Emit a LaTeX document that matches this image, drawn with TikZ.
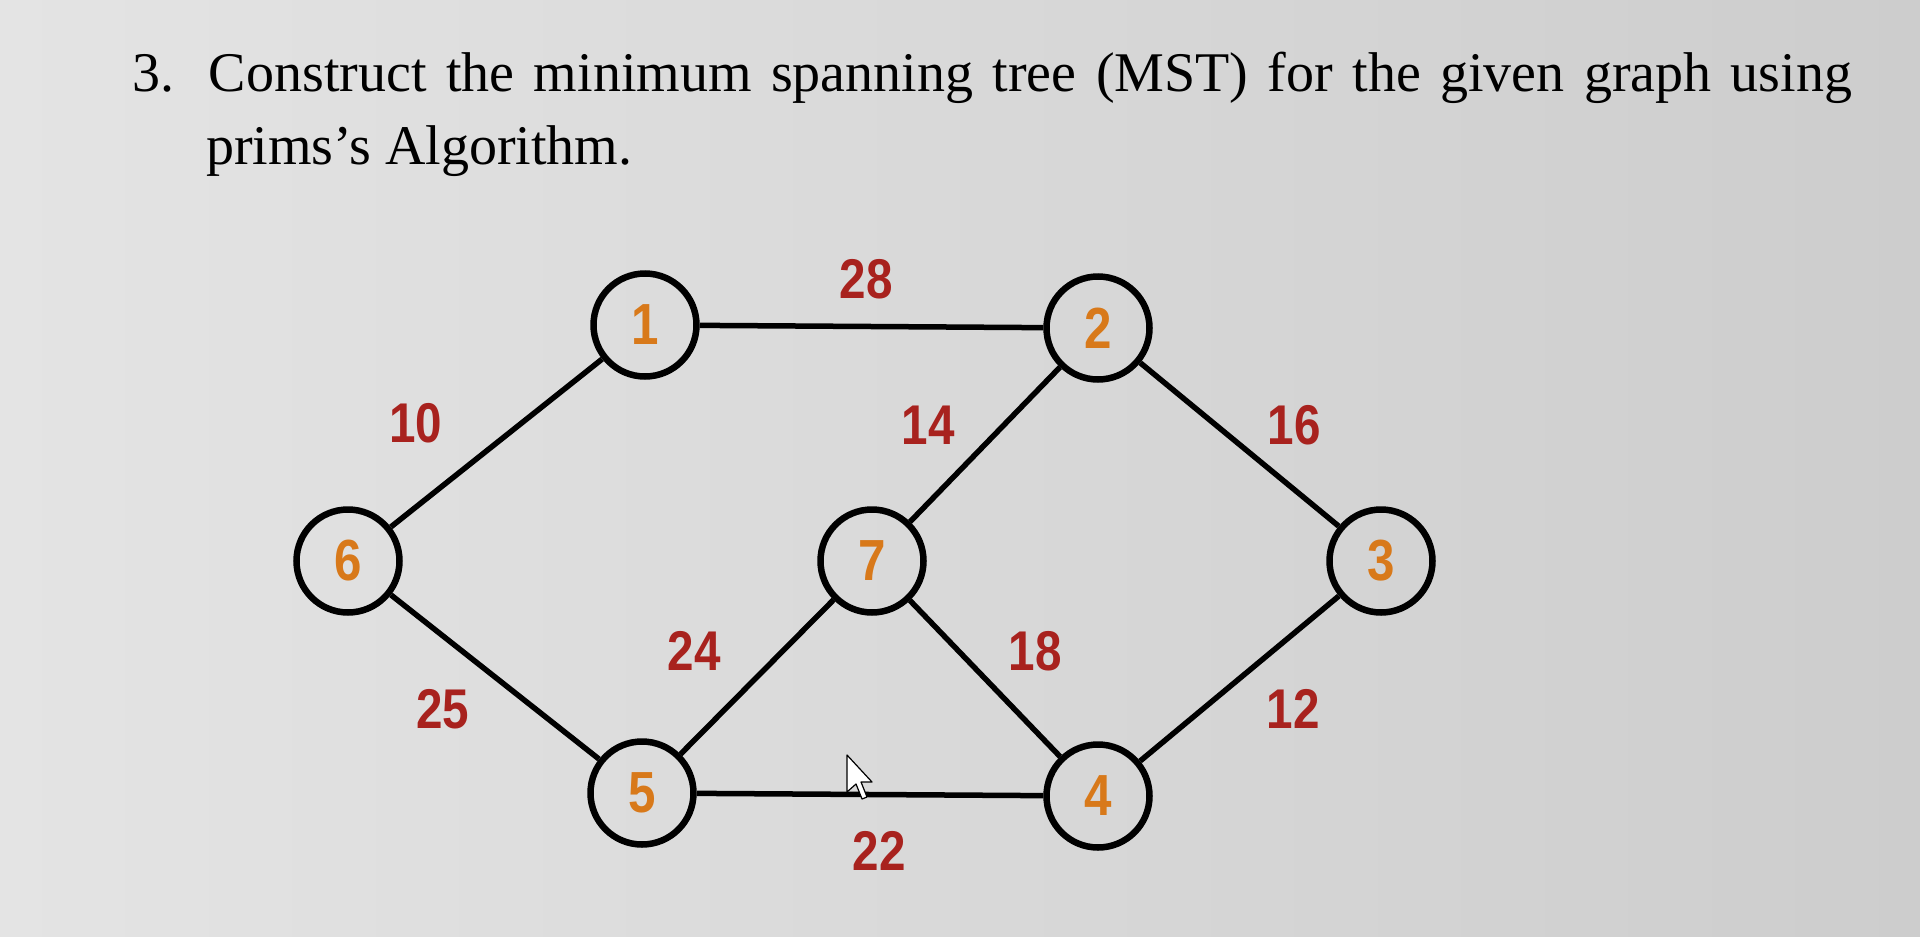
\documentclass[tikz,border=0pt]{standalone}
\usepackage{fontspec}
\setmainfont{Liberation Serif}
\newfontfamily\numfont[FakeStretch=0.85]{Liberation Sans}
\definecolor{labred}{HTML}{A8221E}
\definecolor{nodeorange}{HTML}{D8791A}
\definecolor{bgleft}{HTML}{E4E4E4}
\definecolor{bgright}{HTML}{CDCDCD}
\begin{document}
\begin{tikzpicture}[x=1pt,y=-1pt,
  vert/.style={circle,draw=black,line width=6.5pt,minimum size=103pt,inner sep=0pt,
    font=\numfont\bfseries\fontsize{58}{58}\selectfont,text=nodeorange},
  wlabel/.style={font=\numfont\bfseries\fontsize{56}{56}\selectfont,text=labred,inner sep=0pt},
  edge/.style={line width=5.5pt,black},
  title/.style={inner sep=0pt,font=\fontsize{56}{60}\selectfont,anchor=base west}]
\useasboundingbox (0,0) rectangle (1920,937);
\shade[left color=bgleft,right color=bgright] (0,0) rectangle (1920,937);
% title
\node[title] (t1) at (132,91) {\makebox[1720pt][s]{3. Construct the minimum spanning tree (MST) for the given graph using}};
\node[title] (t2) at (206,164) {prims’s Algorithm.};
% vertices
\node[vert] (n1) at (645,325) {1};
\node[vert] (n2) at (1098,328) {2};
\node[vert] (n6) at (348,561) {6};
\node[vert] (n7) at (872,561) {7};
\node[vert] (n3) at (1381,561) {3};
\node[vert] (n5) at (642,793) {5};
\node[vert] (n4) at (1098,796) {4};
% edges
\draw[edge] (n1) -- (n2);
\draw[edge] (n1) -- (n6);
\draw[edge] (n2) -- (n7);
\draw[edge] (n2) -- (n3);
\draw[edge] (n6) -- (n5);
\draw[edge] (n7) -- (n5);
\draw[edge] (n7) -- (n4);
\draw[edge] (n3) -- (n4);
\draw[edge] (n5) -- (n4);
% weights
\node[wlabel] (w12) at (866,279) {28};
\node[wlabel] (w16) at (416,423) {10};
\node[wlabel] (w27) at (928,425) {14};
\node[wlabel] (w23) at (1294,425) {16};
\node[wlabel] (w75) at (694,651) {24};
\node[wlabel] (w74) at (1035,651) {18};
\node[wlabel] (w65) at (443,709) {25};
\node[wlabel] (w34) at (1293,709) {12};
\node[wlabel] (w54) at (879,851) {22};
% mouse pointer
\draw[fill=white,line width=1.2pt,line join=round] (847,755) -- (847,792) -- (856,784) -- (862,799) -- (867,797) -- (861,782) -- (872,782) -- cycle;
\end{tikzpicture}
\end{document}
